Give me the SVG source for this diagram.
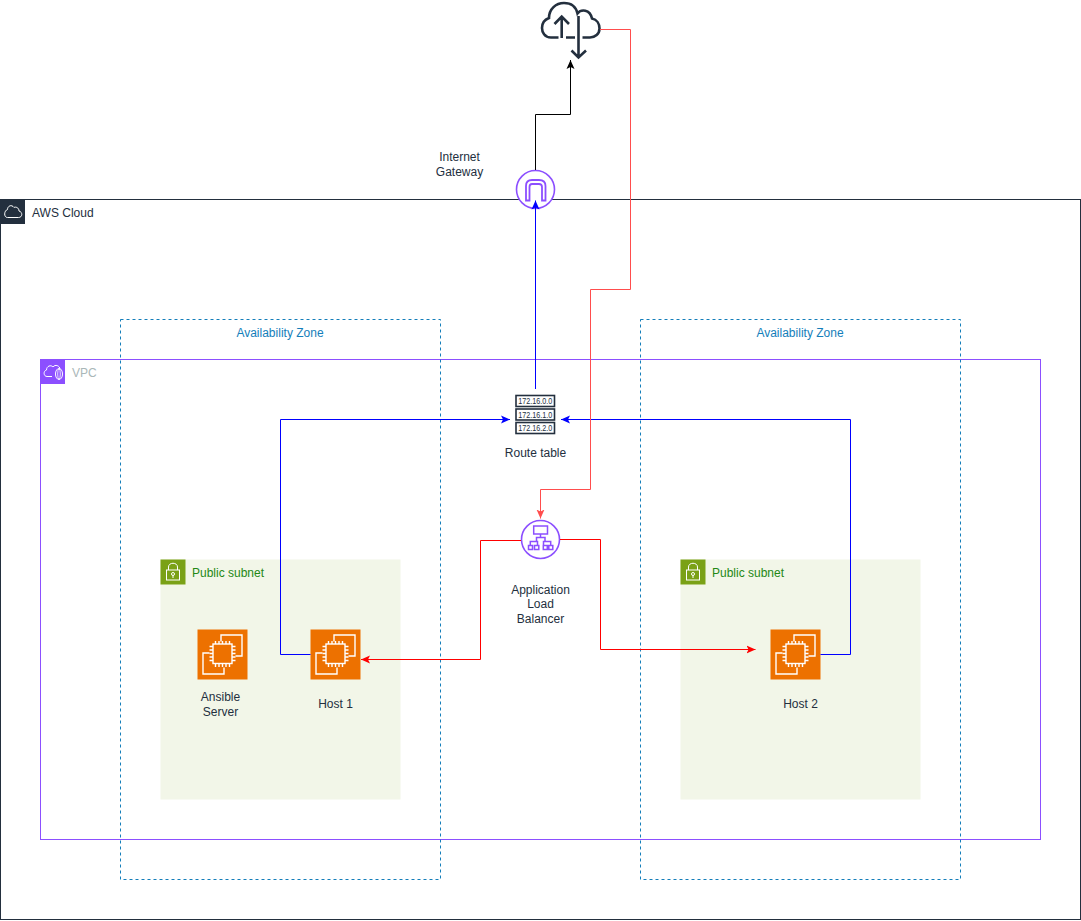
<svg xmlns="http://www.w3.org/2000/svg" width="1081" height="921" viewBox="0 0 1081 921">
<style>
text{font-family:"Liberation Sans",Arial,sans-serif;font-size:12px;fill:#232F3E}
.c{text-anchor:middle}
.az{fill:none;stroke:#147EBA;stroke-dasharray:3 3}
.azt{fill:#147EBA}
.sub{fill:#F2F6E8}
.subt{fill:#248814}
.line{fill:none;stroke-width:1}
.ic{fill:none;stroke:#fff;stroke-width:1.4}
.pur{fill:none;stroke:#8C4FFF;stroke-width:1.8}
.rt{fill:#fff;stroke:#232F3E;stroke-width:1.6}
.rtt{font-size:9px;text-anchor:middle}
</style>
<defs>
<marker id="ak" markerUnits="userSpaceOnUse" markerWidth="12" markerHeight="12" refX="9" refY="5" orient="auto"><path d="M0 1 L9 5 L0 9 L2 5Z" fill="#000"/></marker>
<marker id="ab" markerUnits="userSpaceOnUse" markerWidth="12" markerHeight="12" refX="9" refY="5" orient="auto"><path d="M0 1 L9 5 L0 9 L2 5Z" fill="#0000FF"/></marker>
<marker id="ar" markerUnits="userSpaceOnUse" markerWidth="12" markerHeight="12" refX="9" refY="5" orient="auto"><path d="M0 1 L9 5 L0 9 L2 5Z" fill="#FF0000"/></marker>
<marker id="al" markerUnits="userSpaceOnUse" markerWidth="12" markerHeight="12" refX="9" refY="5" orient="auto"><path d="M0 1 L9 5 L0 9 L2 5Z" fill="#FF4D4D"/></marker>
<g id="ec2">
<rect x="0" y="0" width="50" height="50" fill="#ED7100"/>
<path class="ic" d="M23.500 12V5.500H44.500V26.500H38M12 23.500H5.500V44.500H26.500V38"/>
<rect class="ic" x="15.500" y="14.500" width="19" height="19.500"/>
<path class="ic" d="M18 11.500V14.500M21.500 11.500V14.500M25 11.500V14.500M28.500 11.500V14.500M32 11.500V14.500M18 34V37.500M21.500 34V37.500M25 34V37.500M28.500 34V37.500M32 34V37.500M12 17H15.500M12 20.500H15.500M12 24H15.500M12 27.500H15.500M12 31H15.500M34.500 17H38M34.500 20.500H38M34.500 24H38M34.500 27.500H38M34.500 31H38"/>
</g>
<g id="lock">
<rect x="0" y="0" width="25" height="25" fill="#7AA116"/>
<rect class="ic" x="6" y="10.500" width="13" height="10" style="stroke-width:1"/>
<path class="ic" d="M8 10.500V7.500C8 2.500 17 2.500 17 7.500V10.500" style="stroke-width:1"/>
<circle class="ic" cx="12.500" cy="14.500" r="1.500" style="stroke-width:1"/>
<path class="ic" d="M12.500 16V18.500" style="stroke-width:1"/>
</g>
</defs>

<g id="aws-cloud">
<rect x="0.500" y="199.500" width="1080" height="720" fill="#fff" stroke="#232F3E"/>
<rect x="0" y="199" width="25" height="25" fill="#232F3E"/>
<path d="M7.500 217.500H18.500C22.500 217.500 23 212 19 211C19 207.500 15.500 206.500 14 207.500C11.500 204 7.500 206 7.500 209.500C4 210.500 3.500 217.500 7.500 217.500Z" fill="none" stroke="#fff" stroke-width="1"/>
<text x="32" y="217">AWS Cloud</text>
</g>
<g id="vpc">
<rect x="40.500" y="359.500" width="1000" height="480" fill="none" stroke="#8C4FFF"/>
<rect x="40" y="359" width="25" height="25" fill="#8C4FFF"/>
<path d="M52 376.500H47C43.500 376.500 43 371 46.500 370C46.500 366 51 364.500 53 367C55 364 60 365.500 60 369.500" fill="none" stroke="#fff"/>
<ellipse cx="59" cy="374" rx="3.500" ry="5.500" fill="none" stroke="#fff"/>
<ellipse cx="59" cy="374" rx="1.300" ry="5" fill="none" stroke="#fff" stroke-width="0.800"/>
<text x="72" y="377" style="fill:#AAB7B8">VPC</text>
</g>
<g id="az-left">
<rect class="az" x="120.500" y="319.500" width="320" height="560"/>
<text class="c azt" x="280" y="337">Availability Zone</text>
</g>
<g id="az-right">
<rect class="az" x="640.500" y="319.500" width="320" height="560"/>
<text class="c azt" x="800" y="337">Availability Zone</text>
</g>
<g id="subnet-left">
<rect class="sub" x="160.500" y="559.500" width="240" height="240"/>
<use href="#lock" x="160.500" y="559.500"/>
<text class="subt" x="192" y="577">Public subnet</text>
</g>
<g id="subnet-right">
<rect class="sub" x="680.500" y="559.500" width="240" height="240"/>
<use href="#lock" x="680.500" y="559.500"/>
<text class="subt" x="712" y="577">Public subnet</text>
</g>

<g id="internet">
<path d="M558.500 37.500H551C544.500 37.500 542 32 542 28C542 22.500 545 19.500 549 18C549 9 556 3 564 3C571 3 576 7 577.500 13.500C581 9 590 9 592 18.500C597 19.500 599.500 24 599.500 28.500C599.500 34 595 37.500 590 37.500H582.500M566 37.500H575" fill="none" stroke="#232F3E" stroke-width="2.600"/>
<path d="M561.700 38V17M554.500 24L561.700 16.500L569 24M578.500 16V57M571.500 50.500L578.500 57.500L586 50.500" fill="none" stroke="#232F3E" stroke-width="2.600"/>
</g>
<g id="igw">
<circle cx="535.500" cy="189.500" r="19" fill="#fff" stroke="#8C4FFF" stroke-width="1.600"/>
<path class="pur" d="M526 200.500V186Q526 180 532 180H539Q545.500 180 545.500 186V200.500H542V187Q542 184 539 184H532Q529.500 184 529.500 187V200.500Z"/>
<text class="c" x="459.500" y="161">Internet</text>
<text class="c" x="459.500" y="176">Gateway</text>
</g>
<g id="route-table">
<rect class="rt" x="516" y="395.500" width="38.500" height="11"/>
<rect class="rt" x="516" y="409" width="38.500" height="11"/>
<rect class="rt" x="516" y="422.500" width="38.500" height="11"/>
<text class="rtt" x="535.300" y="404.200" textLength="34" lengthAdjust="spacingAndGlyphs">172.16.0.0</text>
<text class="rtt" x="535.300" y="417.700" textLength="34" lengthAdjust="spacingAndGlyphs">172.16.1.0</text>
<text class="rtt" x="535.300" y="431.200" textLength="34" lengthAdjust="spacingAndGlyphs">172.16.2.0</text>
<text class="c" x="535.500" y="457">Route table</text>
</g>
<g id="alb">
<circle cx="540.500" cy="539.500" r="19" fill="#fff" stroke="#8C4FFF" stroke-width="1.600"/>
<path class="pur" d="M533.700 526H547.500V534H533.700ZM540.500 534V537.500M536.500 541V537.500H545V541M530.300 545V541.500H537.500V545M543.500 545V541.500H550.700V545M528.500 545.500H532.500V549.500H528.500ZM534.500 545.500H538.800V549.500H534.500ZM543.300 545.500H547.300V549.500H543.300ZM548.800 545.500H552.800V549.500H548.800Z" style="stroke-width:1.500"/>
<text class="c" x="540.500" y="594">Application</text>
<text class="c" x="540.500" y="608">Load</text>
<text class="c" x="540.500" y="623">Balancer</text>
</g>
<g id="ansible-server">
<use href="#ec2" x="197.500" y="629.500"/>
<text class="c" x="220.500" y="701">Ansible</text>
<text class="c" x="220.500" y="716">Server</text>
</g>
<g id="host-1">
<use href="#ec2" x="310.500" y="629.500"/>
<text class="c" x="335.500" y="708">Host 1</text>
</g>
<g id="host-2">
<use href="#ec2" x="770.500" y="629.500"/>
<text class="c" x="800.500" y="708">Host 2</text>
</g>

<g id="connectors">
<path class="line" stroke="#000" marker-end="url(#ak)" d="M535.500 170V114.500H570.500V60"/>
<path class="line" stroke="#0000FF" marker-end="url(#ab)" d="M535.500 389V200.500"/>
<path class="line" stroke="#0000FF" marker-end="url(#ab)" d="M310.500 654.500H280.500V419.500H510"/>
<path class="line" stroke="#0000FF" marker-end="url(#ab)" d="M820.500 654.500H850.500V419.500H561"/>
<path class="line" stroke="#FF4D4D" marker-end="url(#al)" d="M600 29.500H630.500V289.500H590.500V489.500H540.500V518.500"/>
<path class="line" stroke="#FF0000" marker-end="url(#ar)" d="M521 540.500H480.500V659.500H361"/>
<path class="line" stroke="#FF0000" marker-end="url(#ar)" d="M560 539.500H600.500V649.500H755.500"/>
</g>
</svg>
